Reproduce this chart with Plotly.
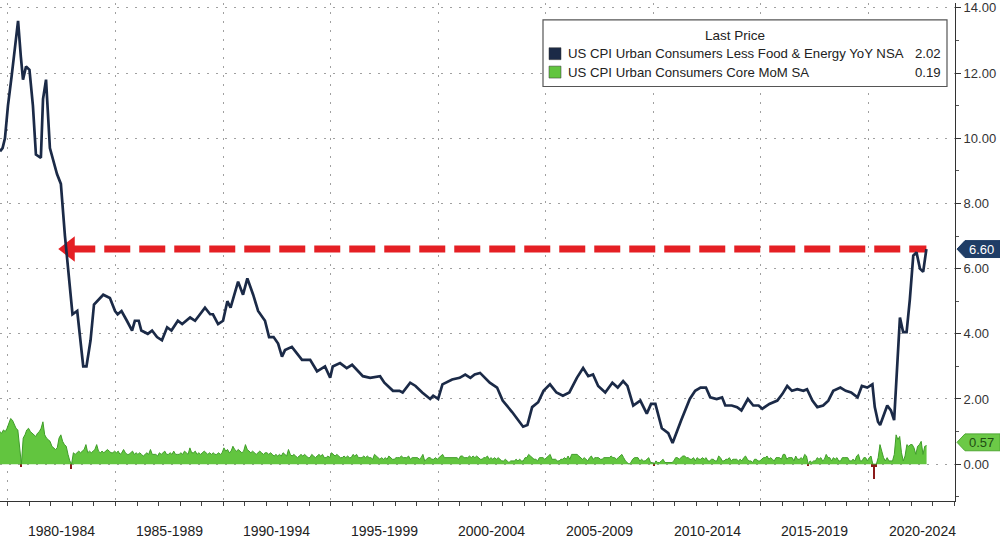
import plotly.graph_objects as go

# ---------------- data ----------------
yoy_x = [1979.63, 1979.75, 1979.86, 1980.0, 1980.17, 1980.33, 1980.47, 1980.6, 1980.7, 1980.84,
         1981.0, 1981.16, 1981.3, 1981.53, 1981.63, 1981.77, 1981.95, 1982.28, 1982.46, 1982.65,
         1982.72, 1982.8, 1983.0, 1983.22, 1983.5, 1983.65, 1983.84, 1984.0, 1984.43, 1984.74,
         1984.98, 1985.1, 1985.28, 1985.53, 1985.77, 1985.9, 1986.08, 1986.2, 1986.5, 1986.7,
         1986.93, 1987.16, 1987.4, 1987.6, 1987.9, 1988.1, 1988.47, 1988.7, 1989.16, 1989.4,
         1989.53, 1989.77, 1990.0, 1990.2, 1990.35, 1990.7, 1990.93, 1991.13, 1991.4, 1991.63,
         1991.95, 1992.14, 1992.35, 1992.56, 1992.74, 1992.88, 1993.2, 1993.67, 1994.05, 1994.37,
         1994.74, 1994.98, 1995.1, 1995.44, 1995.75, 1996.0, 1996.23, 1996.5, 1996.84, 1997.3,
         1997.5, 1997.9, 1998.2, 1998.35, 1998.7, 1998.95, 1999.26, 1999.63, 1999.77, 2000.0,
         2000.2, 2000.65, 2001.0, 2001.26, 2001.5, 2001.7, 2001.95, 2002.2, 2002.4, 2002.74,
         2003.0, 2003.44, 2003.7, 2003.95, 2004.15, 2004.37, 2004.65, 2004.9, 2005.2, 2005.5,
         2005.8, 2006.1, 2006.45, 2006.74, 2006.98, 2007.2, 2007.44, 2007.77, 2008.1, 2008.35,
         2008.6, 2008.8, 2009.07, 2009.4, 2009.7, 2009.9, 2010.1, 2010.4, 2010.7, 2010.9,
         2011.3, 2011.7, 2011.95, 2012.2, 2012.45, 2012.65, 2012.95, 2013.2, 2013.35, 2013.65,
         2013.9, 2014.1, 2014.4, 2014.65, 2014.9, 2015.07, 2015.4, 2015.77, 2016.0, 2016.23,
         2016.45, 2016.7, 2016.98, 2017.15, 2017.4, 2017.63, 2017.9, 2018.14, 2018.37, 2018.7,
         2018.95, 2019.2, 2019.5, 2019.7, 2019.95, 2020.19, 2020.3, 2020.45, 2020.55, 2020.88,
         2021.05, 2021.2, 2021.47, 2021.62, 2021.78, 2021.93, 2022.09, 2022.24, 2022.4, 2022.55,
         2022.7]
yoy_y = [9.6, 9.7, 10.0, 11.0, 11.9, 12.8, 13.6, 12.5, 11.8, 12.2,
         12.1, 11.0, 9.5, 9.4, 11.2, 11.8, 9.7, 8.9, 8.6, 7.0,
         6.5, 5.9, 4.6, 4.7, 3.0, 3.0, 3.8, 4.9, 5.2, 5.1,
         4.7, 4.6, 4.7, 4.4, 4.1, 4.4, 4.4, 4.1, 4.0, 4.1,
         3.9, 3.8, 4.2, 4.1, 4.4, 4.3, 4.5, 4.4, 4.8, 4.6,
         4.6, 4.3, 4.4, 5.0, 4.8, 5.6, 5.2, 5.7, 5.2, 4.7,
         4.4, 3.9, 3.9, 3.7, 3.3, 3.5, 3.6, 3.2, 3.2, 2.85,
         3.0, 2.65, 3.0, 3.1, 2.95, 3.05, 2.9, 2.7, 2.65, 2.7,
         2.5, 2.25, 2.25, 2.2, 2.5, 2.4, 2.2, 2.0, 2.1, 2.0,
         2.45, 2.6, 2.65, 2.75, 2.65, 2.75, 2.8, 2.65, 2.5, 2.35,
         1.95, 1.6, 1.35, 1.15, 1.2, 1.75, 1.9, 2.25, 2.45, 2.2,
         2.1, 2.2, 2.65, 2.95, 2.7, 2.75, 2.4, 2.2, 2.5, 2.35,
         2.55, 2.4, 1.8, 1.95, 1.55, 1.85, 1.85, 1.1, 0.95, 0.65,
         1.35, 2.0, 2.25, 2.35, 2.35, 2.05, 2.0, 2.05, 1.8, 1.8,
         1.75, 1.65, 2.0, 1.8, 1.8, 1.7, 1.85, 1.95, 2.15, 2.4,
         2.25, 2.3, 2.25, 2.3, 1.95, 1.75, 1.8, 1.95, 2.25, 2.35,
         2.25, 2.2, 2.05, 2.4, 2.35, 2.45, 1.75, 1.3, 1.2, 1.8,
         1.65, 1.35, 4.5, 4.05, 4.05, 5.05, 6.4, 6.5, 6.0, 5.9,
         6.6]

mom_start_year = 1979
mom_start_month = 8
mom_values = [
    1.0, 0.95, 1.05, 1.0, 1.1,                                             # 1979 Aug-Dec
    1.25, 1.4, 1.35, 1.2, 1.1, 1.05, 0.6, -0.1, 0.8, 0.9, 1.05, 1.1,       # 1980
    1.0, 0.95, 0.9, 0.85, 0.95, 1.0, 1.1, 1.3, 0.9, 0.8, 0.75, 0.7,        # 1981
    0.55, 0.5, 0.45, 0.5, 0.8, 0.9, 0.7, 0.6, 0.55, 0.3, 0.1, -0.15,       # 1982
    0.35, 0.3, 0.35, 0.4, 0.35, 0.4, 0.45, 0.6, 0.35, 0.4, 0.35, 0.4,      # 1983
    0.45, 0.6, 0.4, 0.35, 0.4, 0.35, 0.4, 0.45, 0.4, 0.35, 0.35, 0.4,      # 1984
    0.35, 0.4, 0.3, 0.35, 0.45, 0.35, 0.3, 0.3, 0.35, 0.4, 0.3, 0.35,      # 1985
    0.3, 0.35, 0.3, 0.25, 0.3, 0.35, 0.3, 0.45, 0.3, 0.3, 0.3, 0.25,       # 1986
    0.35, 0.3, 0.35, 0.4, 0.3, 0.3, 0.35, 0.3, 0.4, 0.3, 0.3, 0.3,         # 1987
    0.35, 0.3, 0.4, 0.35, 0.3, 0.5, 0.35, 0.35, 0.4, 0.3, 0.35, 0.3,       # 1988
    0.35, 0.4, 0.35, 0.3, 0.35, 0.3, 0.35, 0.3, 0.3, 0.35, 0.3, 0.35,      # 1989
    0.5, 0.4, 0.45, 0.35, 0.4, 0.55, 0.45, 0.4, 0.45, 0.4, 0.35, 0.4,      # 1990
    0.6, 0.45, 0.4, 0.35, 0.4, 0.35, 0.3, 0.35, 0.4, 0.35, 0.3, 0.35,      # 1991
    0.35, 0.3, 0.35, 0.3, 0.25, 0.3, 0.25, 0.3, 0.25, 0.35, 0.3, 0.25,     # 1992
    0.45, 0.3, 0.25, 0.3, 0.25, 0.2, 0.25, 0.3, 0.25, 0.3, 0.25, 0.2,      # 1993
    0.2, 0.3, 0.25, 0.2, 0.25, 0.3, 0.25, 0.3, 0.2, 0.2, 0.25, 0.2,        # 1994
    0.35, 0.3, 0.25, 0.3, 0.25, 0.2, 0.2, 0.25, 0.2, 0.25, 0.2, 0.2,       # 1995
    0.3, 0.25, 0.3, 0.2, 0.2, 0.2, 0.25, 0.2, 0.25, 0.2, 0.2, 0.15,        # 1996
    0.3, 0.25, 0.2, 0.15, 0.2, 0.15, 0.2, 0.15, 0.25, 0.2, 0.15, 0.15,     # 1997
    0.2, 0.2, 0.2, 0.25, 0.2, 0.2, 0.2, 0.25, 0.15, 0.2, 0.2, 0.2,         # 1998
    0.2, 0.15, 0.2, 0.3, 0.1, 0.15, 0.2, 0.2, 0.15, 0.15, 0.2, 0.15,       # 1999
    0.2, 0.25, 0.3, 0.2, 0.2, 0.2, 0.2, 0.2, 0.2, 0.2, 0.2, 0.15,          # 2000
    0.25, 0.25, 0.2, 0.2, 0.2, 0.25, 0.2, 0.25, 0.2, 0.25, 0.2, 0.15,      # 2001
    0.15, 0.2, 0.2, 0.25, 0.15, 0.2, 0.15, 0.2, 0.15, 0.2, 0.15, 0.1,      # 2002
    0.1, 0.15, 0.1, 0.05, 0.1, 0.1, 0.1, 0.15, 0.1, 0.15, 0.1, 0.1,        # 2003
    0.2, 0.2, 0.3, 0.25, 0.2, 0.15, 0.15, 0.1, 0.2, 0.2, 0.2, 0.15,        # 2004
    0.2, 0.25, 0.3, 0.15, 0.15, 0.15, 0.1, 0.1, 0.15, 0.15, 0.2, 0.15,     # 2005
    0.25, 0.15, 0.3, 0.3, 0.3, 0.3, 0.25, 0.2, 0.15, 0.2, 0.15, 0.1,       # 2006
    0.2, 0.25, 0.15, 0.2, 0.2, 0.2, 0.15, 0.15, 0.2, 0.2, 0.2, 0.2,        # 2007
    0.25, 0.2, 0.2, 0.15, 0.2, 0.25, 0.3, 0.2, 0.1, 0.05, 0.0, 0.05,       # 2008
    0.15, 0.2, 0.2, 0.2, 0.1, 0.15, 0.1, 0.1, 0.15, 0.2, 0.05, 0.05,       # 2009
    -0.05, 0.1, 0.05, 0.05, 0.1, 0.15, 0.05, 0.05, 0.05, 0.05, 0.05, 0.1,  # 2010
    0.2, 0.2, 0.15, 0.2, 0.25, 0.25, 0.2, 0.2, 0.15, 0.15, 0.2, 0.1,       # 2011
    0.2, 0.15, 0.15, 0.2, 0.15, 0.2, 0.1, 0.1, 0.15, 0.15, 0.1, 0.1,       # 2012
    0.25, 0.2, 0.1, 0.1, 0.15, 0.15, 0.2, 0.1, 0.15, 0.15, 0.15, 0.1,      # 2013
    0.15, 0.1, 0.2, 0.25, 0.15, 0.1, 0.1, 0.05, 0.15, 0.15, 0.1, 0.1,      # 2014
    0.15, 0.2, 0.2, 0.25, 0.15, 0.2, 0.15, 0.1, 0.2, 0.2, 0.2, 0.15,       # 2015
    0.3, 0.3, 0.15, 0.2, 0.2, 0.2, 0.1, 0.25, 0.15, 0.15, 0.2, 0.15,       # 2016
    0.3, 0.25, -0.05, 0.1, 0.05, 0.1, 0.1, 0.2, 0.15, 0.2, 0.1, 0.15,      # 2017
    0.3, 0.2, 0.2, 0.1, 0.2, 0.15, 0.2, 0.1, 0.1, 0.2, 0.2, 0.2,           # 2018
    0.2, 0.1, 0.1, 0.15, 0.1, 0.25, 0.3, 0.1, 0.1, 0.2, 0.2, 0.1,          # 2019
    0.2, 0.25, -0.1, -0.45, -0.1, 0.2, 0.6, 0.4, 0.2, 0.1, 0.2, 0.1,       # 2020
    0.1, 0.1, 0.3, 0.9, 0.75, 0.85, 0.35, 0.1, 0.25, 0.6, 0.55, 0.6,       # 2021
    0.6, 0.5, 0.3, 0.55, 0.6, 0.7, 0.3, 0.55, 0.57,                        # 2022 Jan-Sep
]

period_starts = [1980, 1985, 1990, 1995, 2000, 2005, 2010, 2015, 2020]
y_ticks = [0, 2, 4, 6, 8, 10, 12, 14]

legend_title = "Last Price"
series_names = ["US CPI Urban Consumers Less Food & Energy YoY NSA",
                "US CPI Urban Consumers Core MoM SA"]
series_last = ["2.02", "0.19"]
arrow_level = 6.60
arrow_start = 1982.85
tag_yoy = "6.60"
tag_mom = "0.57"
tag_mom_level = 0.57

# ---------------- styling ----------------
NAVY = "#1b2a47"
GREEN_FILL = "#62c53f"
GREEN_LINE = "#3f9d29"
NEG_RED = "#8b1a1a"
ARROW_RED = "#e51f24"
FONT = "Liberation Sans"
GRID = "#a0a0a0"

# monthly x positions (centre of month, decimal years)
mom_x = []
for i in range(len(mom_values)):
    m = mom_start_month - 1 + i
    mom_x.append(mom_start_year + m // 12 + (m % 12) / 12 + 1 / 24)
mom_pos = [max(v, 0) for v in mom_values]
mom_neg = [min(v, 0) for v in mom_values]

fig = go.Figure()

fig.add_trace(go.Scatter(x=mom_x, y=mom_pos, mode="lines", line=dict(color=GREEN_LINE, width=1),
                         fill="tozeroy", fillcolor=GREEN_FILL, showlegend=False, hoverinfo="skip"))
fig.add_trace(go.Bar(x=mom_x, y=mom_neg, marker=dict(color=NEG_RED, line=dict(width=0)),
                     width=1 / 12, showlegend=False))

fig.add_trace(go.Scatter(x=[arrow_start, yoy_x[-1]], y=[arrow_level, arrow_level], mode="lines",
                         line=dict(color=ARROW_RED, width=7, dash="26px,9px"),
                         showlegend=False, hoverinfo="skip"))
fig.add_trace(go.Scatter(x=[arrow_start], y=[arrow_level], mode="markers",
                         marker=dict(symbol="triangle-left", size=22, color=ARROW_RED),
                         showlegend=False, hoverinfo="skip"))

fig.add_trace(go.Scatter(x=yoy_x, y=yoy_y, mode="lines", line=dict(color=NAVY, width=2.7),
                         showlegend=False))

# ---------------- layout geometry ----------------
W, H = 1000, 538
ML, MR, MT, MB = 0, 45, 0, 37
PW = W - ML - MR
PH = H - MT - MB


def px_x(p):
    return (p - ML) / PW


def px_y(p):
    return 1 - (p - MT) / PH


shapes = []
annotations = []

# legend box
shapes.append(dict(type="rect", xref="paper", yref="paper",
                   x0=px_x(543), x1=px_x(947), y0=px_y(84), y1=px_y(17),
                   line=dict(color="#555555", width=1.2), fillcolor="white", layer="above"))
annotations.append(dict(xref="paper", yref="paper", x=px_x(735), y=px_y(33), text=legend_title,
                        showarrow=False, font=dict(family=FONT, size=13.5, color="#222"),
                        xanchor="center", yanchor="middle"))
sw_colors = [NAVY, GREEN_FILL]
for i, (nm, val) in enumerate(zip(series_names, series_last)):
    yc = 51 + i * 18.5
    shapes.append(dict(type="rect", xref="paper", yref="paper",
                       x0=px_x(549), x1=px_x(561), y0=px_y(yc + 6), y1=px_y(yc - 6),
                       line=dict(color="#333", width=0.5), fillcolor=sw_colors[i], layer="above"))
    annotations.append(dict(xref="paper", yref="paper", x=px_x(566), y=px_y(yc), text=nm,
                            showarrow=False, font=dict(family=FONT, size=13.2, color="#222"),
                            xanchor="left", yanchor="middle"))
    annotations.append(dict(xref="paper", yref="paper", x=px_x(943), y=px_y(yc), text=val,
                            showarrow=False, font=dict(family=FONT, size=13.2, color="#222"),
                            xanchor="right", yanchor="middle"))

# x period labels
for s in period_starts:
    annotations.append(dict(xref="x", yref="paper", x=s + 2.5, y=0, yshift=-20,
                            text=f"{s}-{s + 4}", showarrow=False,
                            font=dict(family=FONT, size=14, color="#222"),
                            xanchor="center", yanchor="top"))


# right-axis value tags
def tag(level, text, fill, txtcol, border):
    half = 8.5 / (PH / (14.15 + 1.13))
    x0 = 1 + 2 / PW
    x1 = 1 + 10 / PW
    x2 = 1 + 45 / PW
    shapes.append(dict(type="path", xref="paper", yref="y",
                       path=f"M {x0},{level} L {x1},{level + half} L {x2},{level + half} "
                            f"L {x2},{level - half} L {x1},{level - half} Z",
                       fillcolor=fill, line=dict(color=border, width=1), layer="above"))
    annotations.append(dict(xref="paper", yref="y", x=1 + 27 / PW, y=level, text=text,
                            showarrow=False, font=dict(family=FONT, size=13, color=txtcol),
                            xanchor="center", yanchor="middle"))


tag(arrow_level, tag_yoy, "#1f3d66", "white", "#1f3d66")
tag(tag_mom_level + 0.1, tag_mom, "#6cc947", "#1f4d12", "#4ea832")

fig.update_layout(
    width=W, height=H,
    margin=dict(l=ML, r=MR, t=MT, b=MB, pad=0),
    paper_bgcolor="white", plot_bgcolor="white",
    bargap=0,
    shapes=shapes, annotations=annotations,
    showlegend=False,
    xaxis=dict(range=[1979.63, 2024.03], tickmode="array", tickvals=period_starts,
               ticktext=["" for _ in period_starts], showticklabels=False,
               ticks="outside", ticklen=37, tickcolor="#444", tickwidth=1,
               minor=dict(tickmode="linear", tick0=1980, dtick=1, ticks="outside",
                          ticklen=4, tickcolor="#444", showgrid=False),
               showgrid=True, gridcolor=GRID, griddash="2px,7px", gridwidth=1,
               showline=True, linecolor="#333", linewidth=1, zeroline=False, fixedrange=True),
    yaxis=dict(range=[-1.13, 14.15], side="right", tickmode="array", tickvals=y_ticks,
               tickformat=".2f", ticks="outside", ticklen=5, tickcolor="#333",
               ticklabeloverflow="allow",
               minor=dict(tickmode="linear", tick0=-1, dtick=2, ticks="outside", ticklen=3,
                          tickcolor="#555", showgrid=False),
               tickfont=dict(family=FONT, size=13, color="#333"),
               showgrid=True, gridcolor=GRID, griddash="2px,7px", gridwidth=1,
               showline=True, linecolor="#333", linewidth=1, zeroline=False, fixedrange=True),
)

fig.write_html("out.html")
